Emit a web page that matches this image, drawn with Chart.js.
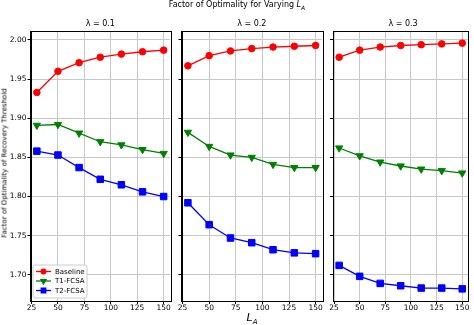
<!DOCTYPE html>
<html>
<head>
<meta charset="utf-8">
<script src="https://cdn.jsdelivr.net/npm/chart.js@4.4.1/dist/chart.umd.min.js"></script>
<style>
  body { margin: 0; background: #fff; }
  #wrap { position: relative; width: 474px; height: 325px; font-family: "DejaVu Sans", sans-serif; color: #000; }
  #wrap canvas { position: absolute; left: 0; top: 0; }
  .txt { position: absolute; white-space: nowrap; line-height: 1; }
</style>
</head>
<body>
<div id="wrap">
  <canvas id="c0" width="474" height="325"></canvas>
  <canvas id="c1" width="474" height="325"></canvas>
  <canvas id="c2" width="474" height="325"></canvas>
  <div class="txt" style="left:237px;top:1px;transform:translateX(-50%);font-size:8px;">Factor of Optimality for Varying <i>L<sub style="font-size:6px">A</sub></i></div>
  <div class="txt" id="t0" style="top:20px;transform:translateX(-50%);font-size:8px;"></div>
  <div class="txt" id="t1" style="top:20px;transform:translateX(-50%);font-size:8px;"></div>
  <div class="txt" id="t2" style="top:20px;transform:translateX(-50%);font-size:8px;"></div>
  <div class="txt" style="left:5px;top:163px;transform:translate(-50%,-50%) rotate(-90deg);font-size:7px;">Factor of Optimality of Recovery Threshold</div>
  <div class="txt" style="left:252px;top:312px;transform:translateX(-50%);font-size:11px;"><i>L<sub style="font-size:7px">A</sub></i></div>
</div>
<script>
// data
const lengths = [30, 50, 70, 90, 110, 130, 150];
const lambdas = ['λ = 0.1', 'λ = 0.2', 'λ = 0.3'];
const seriesNames = ['Baseline', 'T1-FCSA', 'T2-FCSA'];
const xTicks = [25, 50, 75, 100, 125, 150];
const yTicks = [1.70, 1.75, 1.80, 1.85, 1.90, 1.95, 2.00];

const baseline1 = [1.933, 1.960, 1.971, 1.978, 1.982, 1.985, 1.987];
const t1fcsa1 = [1.891, 1.892, 1.881, 1.870, 1.866, 1.860, 1.855];
const t2fcsa1 = [1.858, 1.853, 1.837, 1.822, 1.815, 1.806, 1.800];

const baseline2 = [1.967, 1.980, 1.986, 1.989, 1.991, 1.992, 1.993];
const t1fcsa2 = [1.882, 1.864, 1.853, 1.850, 1.841, 1.837, 1.837];
const t2fcsa2 = [1.792, 1.764, 1.747, 1.741, 1.732, 1.728, 1.727];

const baseline3 = [1.978, 1.987, 1.991, 1.993, 1.994, 1.995, 1.996];
const t1fcsa3 = [1.862, 1.852, 1.844, 1.839, 1.835, 1.833, 1.830];
const t2fcsa3 = [1.712, 1.698, 1.689, 1.686, 1.683, 1.683, 1.682];

const panelData = [
    [baseline1, t1fcsa1, t2fcsa1],
    [baseline2, t1fcsa2, t2fcsa2],
    [baseline3, t1fcsa3, t2fcsa3]
];

// panel placement (pixels)
const panels = [
    { left: 30.5, right: 170 },
    { left: 181.5, right: 322 },
    { left: 333, right: 473 }
];
const plotTop = 31, plotBottom = 301;
const yAxisW = 30, xAxisH = 14;

const colors = ['#ff0000', '#008000', '#0000ff'];
const styles = [
    { pointStyle: 'circle', radius: 3.3, rotation: 0 },
    { pointStyle: 'triangle', radius: 4.2, rotation: 180 },
    { pointStyle: 'rect', radius: 4.6, rotation: 0 }
];

// frame on all four sides
const framePlugin = {
    id: 'frame',
    afterDatasetsDraw(chart) {
        const a = chart.chartArea, ctx = chart.ctx;
        ctx.save();
        ctx.strokeStyle = '#000';
        ctx.lineWidth = 1;
        ctx.strokeRect(Math.round(a.left) + 0.5, Math.round(a.top) + 0.5,
            Math.round(a.right - a.left), Math.round(a.bottom - a.top));
        ctx.restore();
    }
};

// legend in the lower-left corner of the first panel
const legendPlugin = {
    id: 'innerLegend',
    afterDraw(chart) {
        const a = chart.chartArea, ctx = chart.ctx;
        const x = a.left + 2.5, y = a.bottom - 36, w = 54, h = 33;
        ctx.save();
        ctx.fillStyle = 'rgba(255,255,255,0.85)';
        ctx.strokeStyle = '#cccccc';
        ctx.lineWidth = 1;
        ctx.beginPath();
        ctx.roundRect(x, y, w, h, 2);
        ctx.fill();
        ctx.stroke();
        ctx.font = '7px "DejaVu Sans"';
        ctx.textBaseline = 'middle';
        seriesNames.forEach((name, i) => {
            const cy = y + 6.5 + i * 9.5;
            ctx.strokeStyle = colors[i];
            ctx.lineWidth = 1.3;
            ctx.beginPath();
            ctx.moveTo(x + 3, cy);
            ctx.lineTo(x + 18, cy);
            ctx.stroke();
            ctx.fillStyle = colors[i];
            Chart.helpers.drawPoint(ctx, {
                pointStyle: styles[i].pointStyle,
                radius: styles[i].radius * 0.7,
                rotation: styles[i].rotation,
                borderWidth: 1
            }, x + 10.5, cy);
            ctx.fill();
            ctx.fillStyle = '#000';
            ctx.fillText(name, x + 22, cy + 0.5);
        });
        ctx.restore();
    }
};

function createPanel(idx) {
    const p = panels[idx];
    document.getElementById('t' + idx).textContent = lambdas[idx];
    document.getElementById('t' + idx).style.left = ((p.left + p.right) / 2) + 'px';

    const datasets = panelData[idx].map((vals, i) => ({
        label: seriesNames[i],
        data: lengths.map((x, j) => ({ x: x, y: vals[j] })),
        borderColor: colors[i],
        backgroundColor: colors[i],
        borderWidth: 1.3,
        pointStyle: styles[i].pointStyle,
        pointRadius: styles[i].radius,
        pointRotation: styles[i].rotation,
        pointBorderWidth: 1,
        pointBorderColor: colors[i],
        pointBackgroundColor: colors[i],
        tension: 0
    }));

    const plugins = [framePlugin];
    if (idx === 0) plugins.push(legendPlugin);

    new Chart(document.getElementById('c' + idx), {
        type: 'line',
        data: { datasets: datasets },
        plugins: plugins,
        options: {
            responsive: false,
            animation: false,
            events: [],
            layout: {
                padding: {
                    left: p.left - yAxisW,
                    right: 474 - p.right,
                    top: plotTop,
                    bottom: 325 - plotBottom - xAxisH
                }
            },
            plugins: {
                legend: { display: false },
                title: { display: false },
                tooltip: { enabled: false }
            },
            scales: {
                x: {
                    type: 'linear',
                    min: 24,
                    max: 156,
                    afterBuildTicks: s => { s.ticks = xTicks.map(v => ({ value: v })); },
                    afterFit: s => { s.height = xAxisH; s.paddingLeft = 0; s.paddingRight = 0; },
                    ticks: {
                        color: '#000',
                        font: { family: 'DejaVu Sans', size: 7.5 },
                        padding: 0,
                        maxRotation: 0,
                        autoSkip: false
                    },
                    grid: { color: '#c8c8c8', lineWidth: 1, tickColor: '#000', tickLength: 3 },
                    border: { color: '#000', width: 1 }
                },
                y: {
                    type: 'linear',
                    min: 1.6665,
                    max: 2.0115,
                    afterBuildTicks: s => { s.ticks = yTicks.map(v => ({ value: v })); },
                    afterFit: s => { s.width = yAxisW; s.paddingTop = 0; s.paddingBottom = 0; },
                    ticks: {
                        color: idx === 0 ? '#000' : 'rgba(0,0,0,0)',
                        font: { family: 'DejaVu Sans', size: 7.5 },
                        padding: 1,
                        autoSkip: false,
                        callback: v => v.toFixed(2)
                    },
                    grid: { color: '#c8c8c8', lineWidth: 1, tickColor: '#000', tickLength: 3 },
                    border: { color: '#000', width: 1 }
                }
            }
        }
    });
}

[0, 1, 2].forEach(createPanel);
</script>
</body>
</html>
